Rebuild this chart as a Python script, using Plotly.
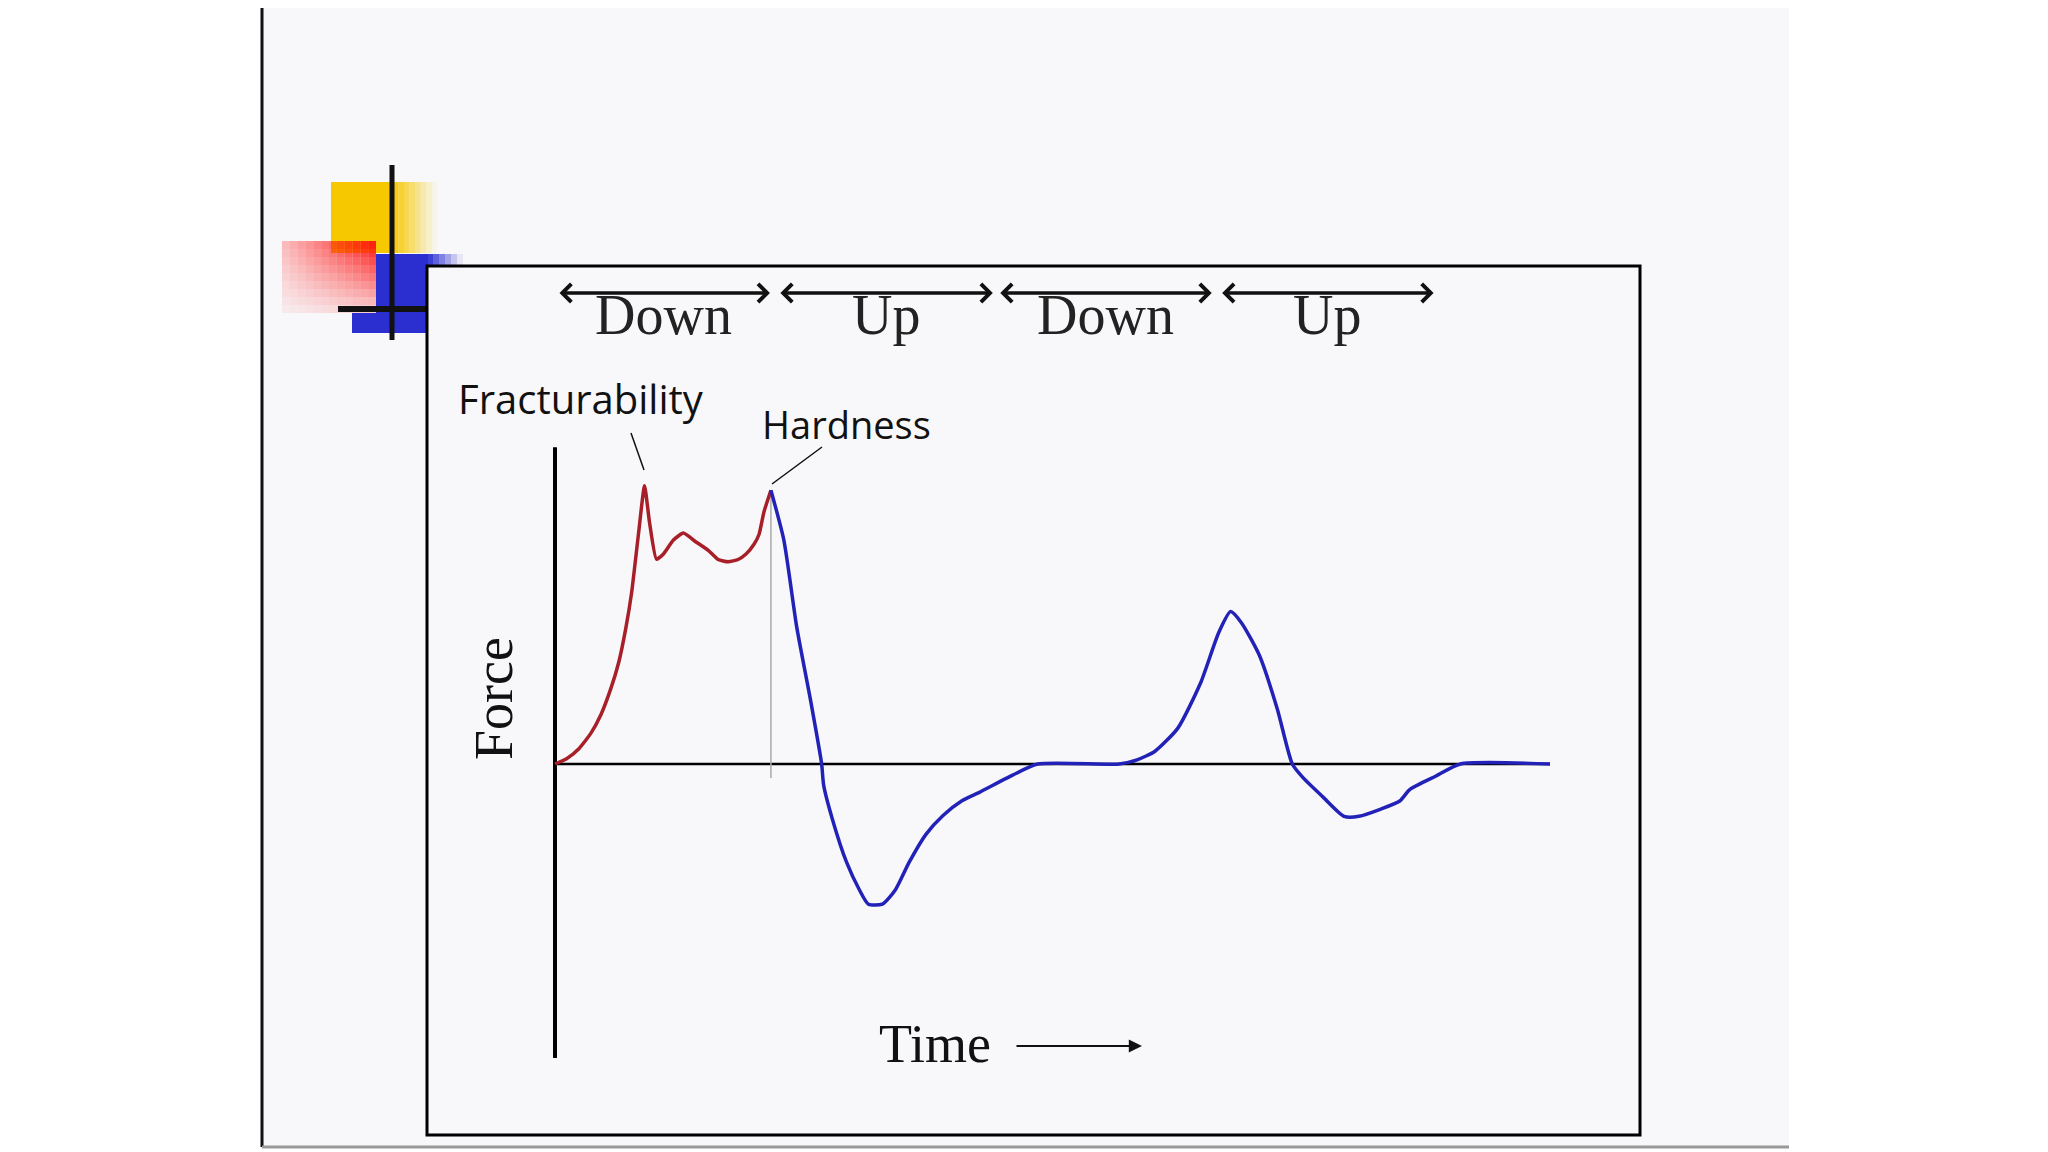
import plotly.graph_objects as go

W, H = 2048, 1152
OFF = 8  # page body margin the browser adds around the figure

# texture profile analysis curve
# first compression up to the hardness peak (red)
bite_time = [0.00, 0.12, 0.24, 0.36, 0.46, 0.56, 0.64, 0.71, 0.77, 0.84, 0.90,
             0.95, 1.02, 1.09, 1.19, 1.29, 1.41, 1.54, 1.64, 1.74, 1.84, 1.92,
             2.00, 2.05, 2.10, 2.17]
bite_force = [0.00, 0.20, 0.55, 1.10, 1.76, 2.70, 3.65, 4.85, 6.16, 8.30, 10.00,
              8.68, 7.36, 7.55, 8.05, 8.30, 8.00, 7.68, 7.35, 7.27, 7.35, 7.55,
              7.90, 8.25, 9.06, 9.84]
# rest of the two cycles (blue)
rest_time = [2.17, 2.30, 2.43, 2.57, 2.68, 2.70, 2.79, 2.93, 3.06, 3.15, 3.29,
             3.42, 3.56, 3.73, 3.90, 4.09, 4.27, 4.54, 4.85, 5.67, 5.85, 6.03,
             6.26, 6.49, 6.67, 6.79, 6.90, 7.08, 7.26, 7.41, 7.52, 7.72, 7.93,
             8.08, 8.30, 8.49, 8.59, 8.85, 9.10, 10.00]
rest_force = [9.84, 8.05, 4.91, 2.26, 0.00, -0.76, -2.01, -3.53, -4.53, -5.04, -5.04,
              -4.53, -3.53, -2.52, -1.85, -1.32, -1.01, -0.51, 0.00, 0.00, 0.15, 0.46,
              1.29, 2.93, 4.72, 5.48, 5.07, 3.90, 1.97, 0.00, -0.50, -1.19, -1.88,
              -1.88, -1.62, -1.33, -0.92, -0.44, 0.00, 0.00]
# probe movement phases (start, end in time units)
phase_labels = ["Down", "Up", "Down", "Up"]
phase_start = [0.03, 2.25, 4.46, 6.69]
phase_end = [2.16, 4.40, 6.60, 8.83]

RED = "#a71f28"
BLUE = "#2222b8"
BG = "#f8f7f9"
SERIF = "Liberation Serif, Times New Roman, serif"
HAND = "Comic Sans MS, Open Sans, sans-serif"


def px(x):
    return (x - OFF) / W


def py(y):
    return 1 - (y - OFF) / H


def prect(x0, y0, x1, y1, **kw):
    # rectangle given in screen pixels
    d = dict(type="rect", xref="paper", yref="paper",
             x0=px(x0), x1=px(x1), y0=py(y1), y1=py(y0), layer="below")
    d.update(kw)
    return d


def pline(x0, y0, x1, y1, color="black", width=2, layer="below"):
    return dict(type="line", xref="paper", yref="paper",
                x0=px(x0), x1=px(x1), y0=py(y0), y1=py(y1),
                line=dict(color=color, width=width), layer=layer)


shapes = []
# slide background and frame
shapes.append(prect(262, 0, 1789, 1147, fillcolor=BG, line=dict(width=0)))
shapes.append(pline(262, 0, 262, 1147, "#111", 3))
shapes.append(pline(262, 1147, 1789, 1147, "#999", 3))

# yellow block with fading right edge
shapes.append(prect(331, 182, 394, 253, fillcolor="#f5c800", line=dict(width=0)))
n = 8
for i in range(n):
    xa = 393 + i * 44 / n
    shapes.append(prect(xa, 182, xa + 44 / n, 253, fillcolor="#f5c800",
                        opacity=1 - (i + 0.5) / n, line=dict(width=0)))

# red block, solid top right fading to bottom left
nx, ny = 12, 9
rx0, ry0, rx1, ry1 = 282, 241, 376, 313
cw, ch = (rx1 - rx0) / nx, (ry1 - ry0) / ny
for i in range(nx):
    for j in range(ny):
        u = (i + 0.5) / nx
        v = 1 - (j + 0.5) / ny
        a = (0.25 + 0.75 * u) * (0.15 + 0.85 * v)
        shapes.append(prect(rx0 + i * cw, ry0 + j * ch, rx0 + (i + 1) * cw, ry0 + (j + 1) * ch,
                            fillcolor="#ff1414", opacity=min(1, a), line=dict(width=0)))

# blue block
shapes.append(prect(376, 254, 428, 333, fillcolor="#2b2fd0", line=dict(width=0)))
shapes.append(prect(352, 313, 377, 333, fillcolor="#2b2fd0", line=dict(width=0)))
n = 6
for i in range(n):
    xa = 427 + i * 36 / n
    shapes.append(prect(xa, 254, xa + 36 / n, 300, fillcolor="#2b2fd0",
                        opacity=1 - (i + 0.5) / n, line=dict(width=0)))

# black cross lines
shapes.append(pline(392, 165, 392, 340, "#111", 5))
shapes.append(pline(338, 309, 428, 309, "#111", 6))

# inner picture box
shapes.append(prect(427, 266, 1640, 1135, fillcolor=BG, line=dict(color="black", width=3)))

# leader lines for the labels
shapes.append(pline(631, 433, 644, 470, "#111", 1.5, "above"))
shapes.append(pline(822, 447, 772, 484, "#111", 1.5, "above"))

# force and time axes drawn through the data axes
shapes.append(dict(type="line", xref="x", yref="y", x0=0, x1=0, y0=-10.57, y1=11.39,
                   line=dict(color="black", width=4), layer="below"))
shapes.append(dict(type="line", xref="x", yref="y", x0=0, x1=rest_time[-1], y0=0, y1=0,
                   line=dict(color="black", width=2.5), layer="below"))

fig = go.Figure()

# hardness marker line
hard_t = bite_time[-1]
hard_f = bite_force[-1]
fig.add_trace(go.Scatter(x=[hard_t, hard_t], y=[hard_f, -0.5], mode="lines",
                         line=dict(color="#aaaaaa", width=1.5), hoverinfo="skip"))
fig.add_trace(go.Scatter(x=bite_time, y=bite_force, mode="lines",
                         line=dict(color=RED, width=3.5, shape="spline", smoothing=0.5)))
fig.add_trace(go.Scatter(x=rest_time, y=rest_force, mode="lines",
                         line=dict(color=BLUE, width=3.5, shape="spline", smoothing=0.6)))

annotations = []
arrow_y = 16.93
for lab, s, e in zip(phase_labels, phase_start, phase_end):
    annotations.append(dict(x=e, y=arrow_y, xref="x", yref="y", ax=s, ay=arrow_y,
                            axref="x", ayref="y", text="", showarrow=True,
                            arrowhead=4, startarrowhead=4, arrowside="end+start",
                            arrowwidth=3.5, arrowsize=1, startarrowsize=1,
                            arrowcolor="#111"))
    annotations.append(dict(x=(s + e) / 2, y=16.15, xref="x", yref="y", text=lab,
                            showarrow=False, xanchor="center", yanchor="middle",
                            font=dict(family=SERIF, size=56, color="#222")))

annotations.append(dict(x=px(581), y=py(398), xref="paper", yref="paper",
                        text="Fracturability", showarrow=False,
                        xanchor="center", yanchor="middle",
                        font=dict(family=HAND, size=40, color="#111")))
annotations.append(dict(x=px(846), y=py(424), xref="paper", yref="paper",
                        text="Hardness", showarrow=False,
                        xanchor="center", yanchor="middle",
                        font=dict(family=HAND, size=38, color="#111")))
annotations.append(dict(x=px(494), y=py(699), xref="paper", yref="paper",
                        text="Force", textangle=-90, showarrow=False,
                        xanchor="center", yanchor="middle",
                        font=dict(family=SERIF, size=54, color="#111")))
annotations.append(dict(x=px(935), y=py(1044), xref="paper", yref="paper",
                        text="Time", showarrow=False,
                        xanchor="center", yanchor="middle",
                        font=dict(family=SERIF, size=54, color="#111")))
annotations.append(dict(x=px(1142), y=py(1046), xref="paper", yref="paper",
                        ax=-127, ay=0, axref="pixel", ayref="pixel", text="",
                        showarrow=True, arrowhead=2, arrowwidth=2.2, arrowsize=1.2,
                        arrowcolor="#111"))

# axis ranges chosen so that time 0 / force 0 sit on the drawn axes
x_zero, x_unit = 555 - OFF, 99.5
y_zero, y_unit = 764 - OFF, 27.82

fig.update_layout(
    width=W, height=H,
    margin=dict(l=0, r=0, t=0, b=0),
    paper_bgcolor="white", plot_bgcolor="white",
    showlegend=False,
    xaxis=dict(range=[-x_zero / x_unit, (W - x_zero) / x_unit], visible=False, fixedrange=True),
    yaxis=dict(range=[(y_zero - H) / y_unit, y_zero / y_unit], visible=False, fixedrange=True),
    shapes=shapes,
    annotations=annotations,
)

fig.write_html("out.html")
